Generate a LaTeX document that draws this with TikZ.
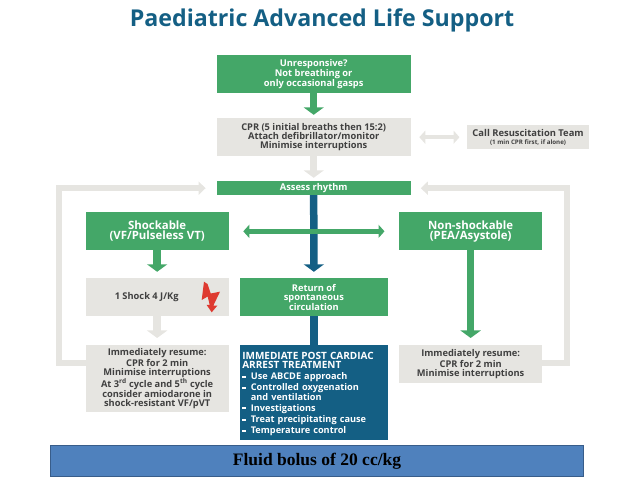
\documentclass[tikz,border=0pt]{standalone}
\usepackage{fontspec}
\setmainfont{Open Sans}
\newfontfamily\serifb{Liberation Serif}
\usetikzlibrary{arrows.meta}
\definecolor{pgreen}{HTML}{44A768}
\definecolor{pgrey}{HTML}{E6E5E1}
\definecolor{pblue}{HTML}{145F84}
\definecolor{pbar}{HTML}{4F81BD}
\definecolor{pbarline}{HTML}{385D8A}
\definecolor{ptext}{HTML}{404040}
\definecolor{pred}{HTML}{DE3A30}
\newcommand{\blt}{\rule[2pt]{3.5pt}{2pt}\hspace{5pt}}
\tikzset{
  every node/.style={font=\fontsize{9.3}{9.2}\selectfont\bfseries},
  boxbase/.style={anchor=north west,inner sep=0pt,align=center},
  greenbox/.style={boxbase,fill=pgreen,text=white},
  greybox/.style={boxbase,fill=pgrey,text=ptext},
  bluebox/.style={boxbase,fill=pblue,text=white},
  flow/.style={line width=7.5pt,-{Triangle[length=7.5pt,width=20pt]}},
  both/.style={line width=4.5pt,{Triangle[length=6pt,width=13pt]}-{Triangle[length=6pt,width=13pt]}},
  loop/.style={line width=6pt,pgrey,-{Triangle[length=7pt,width=13pt]}}
}
\begin{document}
\begin{tikzpicture}[x=1pt,y=-1pt]
\useasboundingbox (0,0) rectangle (638,478);
\node[anchor=center,text=pblue,font=\fontsize{23.2}{26}\selectfont\bfseries] (title) at (322,20) {Paediatric Advanced Life Support};

\node[greenbox,minimum width=193.8pt,minimum height=37.7pt] (unr) at (216.6,55) {Unresponsive?\\Not breathing or\\only occasional gasps};
\node[greybox,minimum width=193.8pt,minimum height=37.4pt] (cpr) at (216.6,118.3) {CPR (5 initial breaths then 15:2)\\Attach defibrillator/monitor\\Minimise interruptions};
\node[greybox,minimum width=121.8pt,minimum height=23.4pt] (team) at (467,125.3) {{\fontsize{9.4}{10}\selectfont Call Resuscitation Team}\\[-1.5pt]{\fontsize{6.2}{6.5}\selectfont (1 min CPR first, if alone)}};
\node[greenbox,minimum width=193.8pt,minimum height=13.4pt] (assess) at (216.6,181.3) {Assess rhythm};
\node[greenbox,minimum width=142.9pt,minimum height=37.7pt,font=\fontsize{11.4}{10}\selectfont\bfseries] (shock) at (85.5,212.3) {\rule{0pt}{9pt}Shockable\\(VF/Pulseless VT)};
\node[greenbox,minimum width=142.9pt,minimum height=37.7pt,font=\fontsize{11.4}{10}\selectfont\bfseries] (non) at (399,212.3) {\rule{0pt}{9pt}Non-shockable\\(PEA/Asystole)};
\node[greybox,minimum width=142.9pt,minimum height=37.7pt] (one) at (85.5,278.3) {\hspace{-21pt}1 Shock 4 J/Kg};
\node[greenbox,minimum width=148.6pt,minimum height=37.7pt] (rosc) at (239.4,278.3) {Return of\\spontaneous\\circulation};
\node[greybox,minimum width=142.9pt,minimum height=67.3pt] (resl) at (85.5,345) {Immediately resume:\\CPR for 2 min\\Minimise interruptions\\At 3\textsuperscript{rd} cycle and 5\textsuperscript{th} cycle\\consider amiodarone in\\shock-resistant VF/pVT};
\node[bluebox,minimum width=148.6pt,minimum height=95pt,align=left,text width=143.2pt,inner xsep=2.7pt,font=\fontsize{9.2}{9.2}\selectfont\bfseries] (post) at (239.4,345) {\rule{0pt}{10pt}{\fontsize{10}{9.2}\selectfont IMMEDIATE POST CARDIAC}\\{\fontsize{10}{9.2}\selectfont ARREST TREATMENT}\\[2pt]\blt Use ABCDE approach\\[2pt]\blt Controlled oxygenation\\\hspace*{8.5pt}and ventilation\\[2pt]\blt Investigations\\[2pt]\blt Treat precipitating cause\\[2pt]\blt Temperature control};
\node[greybox,minimum width=142.9pt,minimum height=37.7pt] (resr) at (399,345) {Immediately resume:\\CPR for 2 min\\Minimise interruptions};
\node[anchor=north west,minimum width=533pt,minimum height=30.7pt,inner sep=0pt,fill=pbar,draw=pbarline,line width=1pt,text=black,font=\serifb\fontsize{17.5}{20}\selectfont\bfseries] (fluid) at (50,445) {Fluid bolus of 20 cc/kg};

% lightning
\fill[pred] (204,281.7) -- (207.5,284) -- (210.7,293.5) -- (220,291.7) -- (213.3,305.7) -- (217.3,305.7) -- (211.7,312.3) -- (206.7,305) -- (209.7,305) -- (207.7,296.5) -- (201.7,300) -- cycle;

% connectors
\draw[flow,pblue,shorten >=6.5pt] (assess.south) -- (rosc.north);
\draw[line width=7.5pt,pblue] (rosc.south) -- (post.north);
\draw[flow,pgreen,shorten >=3.5pt] (unr.south) -- (cpr.north);
\draw[flow,pgrey,shorten >=3.5pt] (cpr.south) -- (assess.north);
\draw[both,pgreen,shorten >=14.5pt,shorten <=14.5pt] (shock.east) -- (non.west);
\draw[both,pgrey,shorten >=7.5pt,shorten <=8.5pt] (cpr.east |- team.west) -- (team.west);
\draw[flow,pgreen,shorten >=6.5pt] (shock.south) -- (one.north);
\draw[flow,pgrey,shorten >=7pt] (one.south) -- (resl.north);
\draw[flow,pgreen,shorten >=7pt] (non.south) -- (resr.north);
\coordinate (lc) at (59,363.5);
\coordinate (rc) at (566.5,363.5);
\draw[loop,shorten >=11pt] (resl.west |- lc) -- (lc) -- (lc |- assess.west) -- (assess.west);
\draw[loop,shorten >=10pt] (resr.east |- rc) -- (rc) -- (rc |- assess.east) -- (assess.east);
\end{tikzpicture}
\end{document}
